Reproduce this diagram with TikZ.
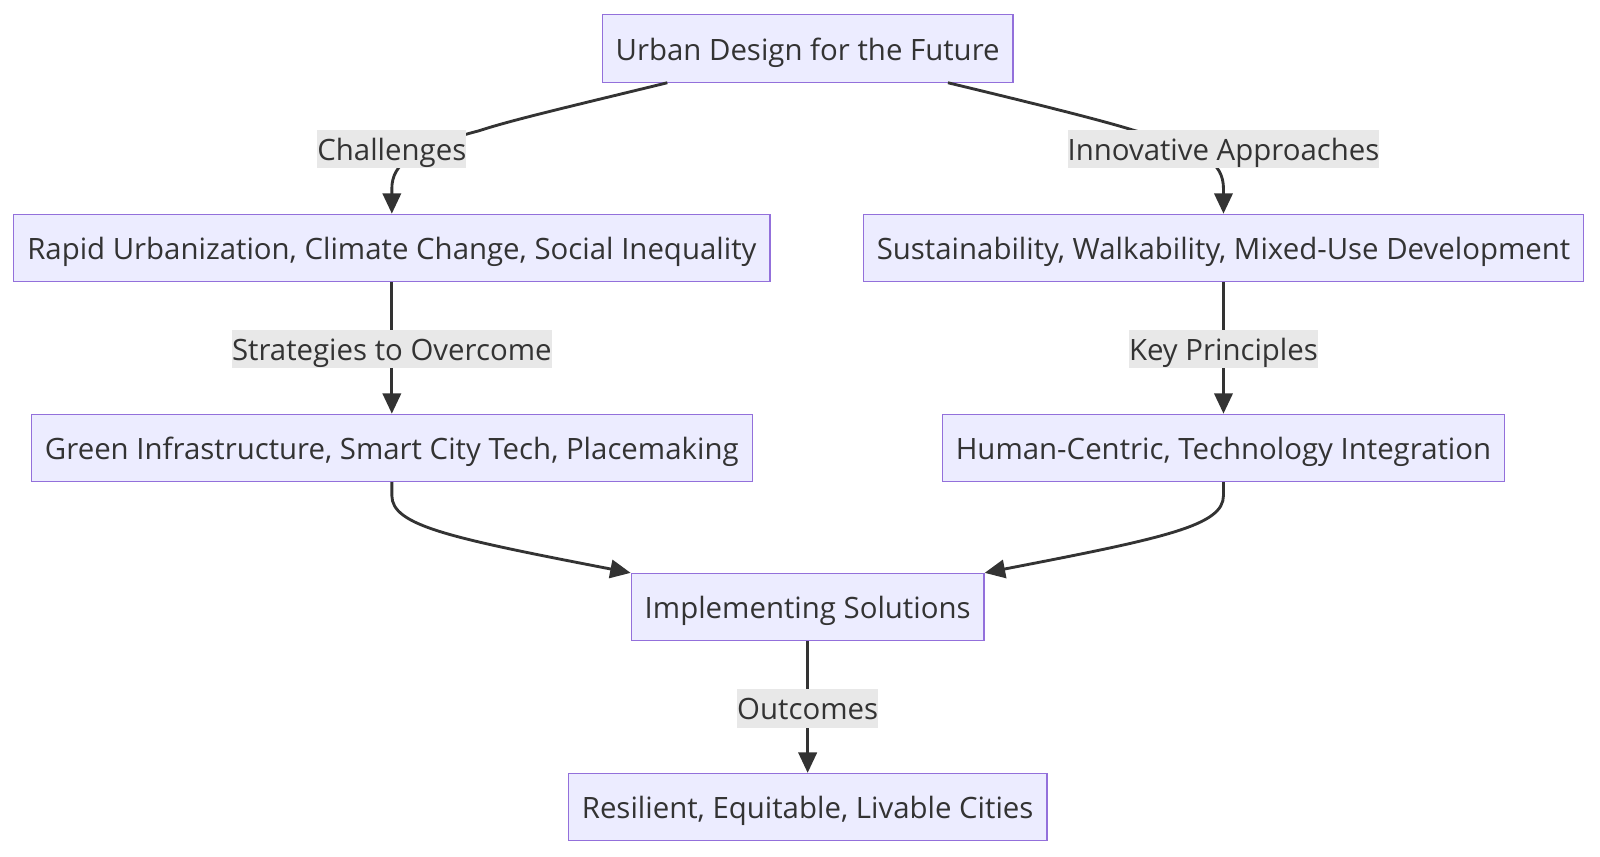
\documentclass[tikz,border=0pt]{standalone}
\usepackage{fontspec}
\setmainfont{Open Sans}
\usetikzlibrary{arrows.meta,calc}
\definecolor{nodefill}{HTML}{ECECFF}
\definecolor{nodeline}{HTML}{9370DB}
\definecolor{ink}{HTML}{333333}
\definecolor{labelbg}{HTML}{E8E8E8}
\tikzset{
  box/.style={draw=nodeline, fill=nodefill, line width=0.6pt, minimum height=33pt,
    inner xsep=6.6pt, inner ysep=0pt, text height=14pt, text depth=2.5pt,
    text=ink, font=\fontsize{14.4}{17}\selectfont},
  elabel/.style={fill=labelbg, inner xsep=0pt, inner ysep=0pt, minimum height=19pt,
    text height=14pt, text depth=2.5pt,
    text=ink, font=\fontsize{14.4}{17}\selectfont},
  edge/.style={draw=ink, line width=1.4pt, -{Triangle[length=10pt,width=9pt]}}
}
\begin{document}
\begin{tikzpicture}[x=0.5pt,y=-0.5pt]
\useasboundingbox (0,0) rectangle (1568,839);
\node[box] (top) at (791.5,47.5) {Urban Design for the Future};
\node[box] (rapid) at (384,243) {Rapid Urbanization, Climate Change, Social Inequality};
\node[box] (sust) at (1199,243) {Sustainability, Walkability, Mixed-Use Development};
\node[box] (green) at (384,439) {Green Infrastructure, Smart City Tech, Placemaking};
\node[box] (human) at (1199,439) {Human-Centric, Technology Integration};
\node[box] (impl) at (791.5,595) {Implementing Solutions};
\node[box] (res) at (791.5,791) {Resilient, Equitable, Livable Cities};

\coordinate (tl) at ($(top.south)+(-137.5,0)$);
\coordinate (tr) at ($(top.south)+(137.5,0)$);

\draw[edge] (tl) .. controls (560,104) and (500,118) .. (470,128) .. controls (405,145) and (384,160) .. (384,185) -- (rapid.north);
\draw[edge] (tr) .. controls (1020,103) and (1080,118) .. (1112,128) .. controls (1180,146) and (1199,160) .. (1199,185) -- (sust.north);
\draw[edge] (rapid.south) -- (green.north);
\draw[edge] (sust.south) -- (human.north);
\draw[edge] (green.south) -- ++(0,13) .. controls (384,515) and (440,527) .. (impl.north west);
\draw[edge] (human.south) -- ++(0,13) .. controls (1199,515) and (1143,527) .. (impl.north east);
\draw[edge] (impl.south) -- (res.north);

\node[elabel] (l1) at (384,146) {Challenges};
\node[elabel] (l2) at (1199,146) {Innovative Approaches};
\node[elabel] (l3) at (384,342) {Strategies to Overcome};
\node[elabel] (l4) at (1199,342) {Key Principles};
\node[elabel] (l5) at (791.5,694) {Outcomes};
\end{tikzpicture}
\end{document}
